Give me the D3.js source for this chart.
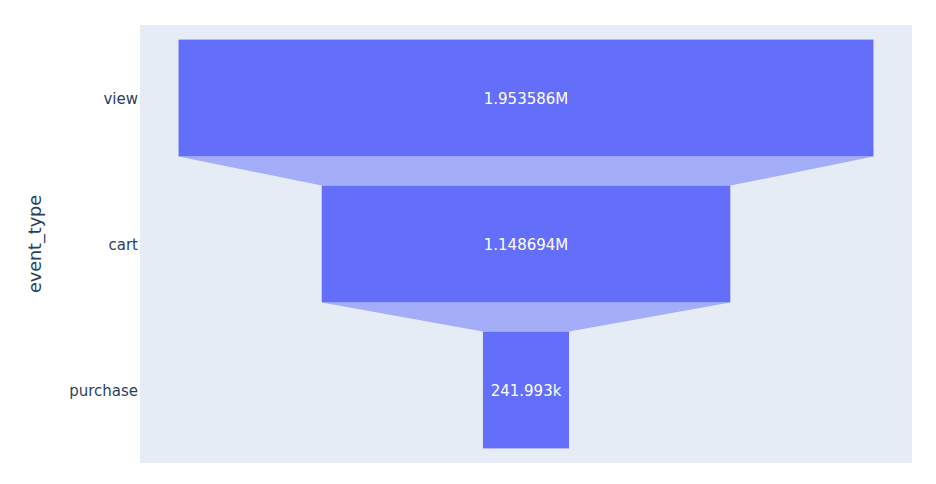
<!DOCTYPE html>
<html>
<head>
<meta charset="utf-8">
<script src="https://cdn.jsdelivr.net/npm/d3@7"></script>
<style>
  body { margin: 0; background: #fff; }
  text { font-family: "DejaVu Sans", verdana, arial, sans-serif; }
</style>
</head>
<body>
<div id="chart"></div>
<script>
// funnel data
const stages = ["view", "cart", "purchase"];
const counts = [1953586, 1148694, 241993];
const countLabels = ["1.953586M", "1.148694M", "241.993k"];

let width = 936;
let height = 484;
let margin = {top: 25, right: 24, bottom: 21, left: 140};

let svg = d3.select("#chart")
    .append("svg")
    .attr("width", width)
    .attr("height", height);

let plotW = width - margin.left - margin.right;
let plotH = height - margin.top - margin.bottom;

let g = svg.append("g")
    .attr("transform", `translate(${margin.left}, ${margin.top})`);

// background of plot area
g.append("rect")
    .attr("width", plotW)
    .attr("height", plotH)
    .attr("fill", "#e5ecf6");

let maxVal = d3.max(counts);
let xScale = d3.scaleLinear()
    .domain([-maxVal * 0.5555, maxVal * 0.5555])
    .range([0, plotW]);

let yScale = d3.scaleBand()
    .domain(stages)
    .range([0, plotH])
    .paddingInner(0.2)
    .paddingOuter(0.1);

// connectors between bars
let connectors = d3.range(stages.length - 1).map(i => [i, i + 1]);
g.selectAll(".connector")
    .data(connectors)
    .enter()
    .append("path")
    .attr("class", "connector")
    .attr("fill", "rgba(99,110,250,0.5)")
    .attr("d", d => {
        let a = d[0], b = d[1];
        let y0 = yScale(stages[a]) + yScale.bandwidth();
        let y1 = yScale(stages[b]);
        return `M${xScale(-counts[a] / 2)},${y0}L${xScale(counts[a] / 2)},${y0}` +
               `L${xScale(counts[b] / 2)},${y1}L${xScale(-counts[b] / 2)},${y1}Z`;
    });

// bars
g.selectAll(".bar")
    .data(counts)
    .enter()
    .append("rect")
    .attr("class", "bar")
    .attr("x", d => xScale(-d / 2))
    .attr("y", (d, i) => yScale(stages[i]))
    .attr("width", d => xScale(d / 2) - xScale(-d / 2))
    .attr("height", yScale.bandwidth())
    .attr("fill", "#636efa");

// value labels inside bars
g.selectAll(".value")
    .data(counts)
    .enter()
    .append("text")
    .attr("class", "value")
    .attr("x", xScale(0))
    .attr("y", (d, i) => yScale(stages[i]) + yScale.bandwidth() / 2 + 1)
    .attr("dy", "0.35em")
    .attr("text-anchor", "middle")
    .attr("fill", "#ffffff")
    .style("font-size", "15px")
    .text((d, i) => countLabels[i]);

// y axis
let yAxis = d3.axisLeft(yScale).tickSize(0).tickPadding(2);
let axisG = g.append("g").call(yAxis);
axisG.select(".domain").remove();
axisG.selectAll("text")
    .attr("dy", "0.4em")
    .attr("fill", "#2a3f5f")
    .style("font-size", "15px")
    .style("font-family", "'DejaVu Sans', verdana, arial, sans-serif");

// y axis title
svg.append("text")
    .attr("transform", `translate(41, ${margin.top + plotH / 2}) rotate(-90)`)
    .attr("text-anchor", "middle")
    .attr("fill", "#2a3f5f")
    .style("font-size", "17.6px")
    .text("event_type");
</script>
</body>
</html>
